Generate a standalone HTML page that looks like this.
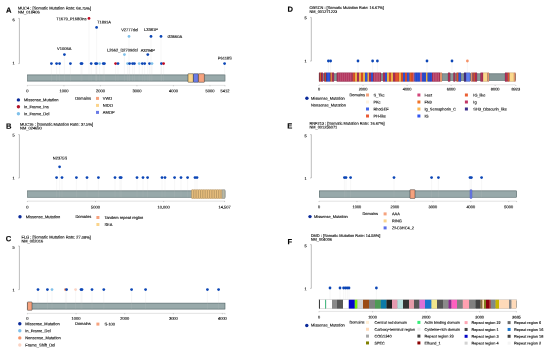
<!DOCTYPE html>
<html lang="en">
<head>
<meta charset="utf-8">
<title>Lollipop plots</title>
<style>
html,body{margin:0;padding:0;background:#fff;}
body{width:550px;height:353px;overflow:hidden;}
svg{display:block;font-family:"Liberation Sans",sans-serif;text-rendering:geometricPrecision;}
text{stroke:#151515;stroke-width:0.13px;}
</style>
</head>
<body>
<svg width="550" height="353" viewBox="0 0 550 353">
<rect x="0" y="0" width="550" height="353" fill="#ffffff"/>
<text x="6" y="12.75" font-size="7.6" font-weight="bold" fill="#000" transform="rotate(0.03 6 12.75)">A</text>
<text x="17.9" y="9.6" font-size="4" fill="#151515" transform="rotate(0.03 17.9 9.6)">MUC4 : [Somatic Mutation Rate: 68.75%]</text>
<text x="17.9" y="13.5" font-size="4" fill="#151515" transform="rotate(0.03 17.9 13.5)">NM_018406</text>
<line x1="19.4" y1="18.4" x2="19.4" y2="63.6" stroke="#7a7a7a" stroke-width="0.5"/>
<line x1="18.2" y1="18.4" x2="19.4" y2="18.4" stroke="#7a7a7a" stroke-width="0.4"/>
<line x1="18.2" y1="63.6" x2="19.4" y2="63.6" stroke="#7a7a7a" stroke-width="0.4"/>
<text x="14.8" y="21.15" font-size="4" text-anchor="end" fill="#151515" transform="rotate(0.03 14.8 21.15)">6</text>
<text x="14.8" y="64.5" font-size="4" text-anchor="end" fill="#151515" transform="rotate(0.03 14.8 64.5)">1</text>
<rect x="27.7" y="74.9" width="197.3" height="6.2" fill="#98a9aa" stroke="#44585a" stroke-width="0.55"/>
<line x1="51.4" y1="63.6" x2="51.4" y2="81.2" stroke="#c4c4c4" stroke-opacity="0.5" stroke-width="0.28"/>
<line x1="56.6" y1="63.6" x2="56.6" y2="81.2" stroke="#c4c4c4" stroke-opacity="0.5" stroke-width="0.28"/>
<line x1="59.6" y1="63.6" x2="59.6" y2="81.2" stroke="#c4c4c4" stroke-opacity="0.5" stroke-width="0.28"/>
<line x1="70.4" y1="63.6" x2="70.4" y2="81.2" stroke="#c4c4c4" stroke-opacity="0.5" stroke-width="0.28"/>
<line x1="81" y1="63.6" x2="81" y2="81.2" stroke="#c4c4c4" stroke-opacity="0.5" stroke-width="0.28"/>
<line x1="82" y1="63.6" x2="82" y2="81.2" stroke="#c4c4c4" stroke-opacity="0.5" stroke-width="0.28"/>
<line x1="91.2" y1="63.6" x2="91.2" y2="81.2" stroke="#c4c4c4" stroke-opacity="0.5" stroke-width="0.28"/>
<line x1="95.6" y1="63.6" x2="95.6" y2="81.2" stroke="#c4c4c4" stroke-opacity="0.5" stroke-width="0.28"/>
<line x1="96.8" y1="63.6" x2="96.8" y2="81.2" stroke="#c4c4c4" stroke-opacity="0.5" stroke-width="0.28"/>
<line x1="99.6" y1="63.6" x2="99.6" y2="81.2" stroke="#c4c4c4" stroke-opacity="0.5" stroke-width="0.28"/>
<line x1="103.2" y1="63.6" x2="103.2" y2="81.2" stroke="#c4c4c4" stroke-opacity="0.5" stroke-width="0.28"/>
<line x1="104.4" y1="63.6" x2="104.4" y2="81.2" stroke="#c4c4c4" stroke-opacity="0.5" stroke-width="0.28"/>
<line x1="115.6" y1="63.6" x2="115.6" y2="81.2" stroke="#c4c4c4" stroke-opacity="0.5" stroke-width="0.28"/>
<line x1="118" y1="63.6" x2="118" y2="81.2" stroke="#c4c4c4" stroke-opacity="0.5" stroke-width="0.28"/>
<line x1="127.5" y1="63.6" x2="127.5" y2="81.2" stroke="#c4c4c4" stroke-opacity="0.5" stroke-width="0.28"/>
<line x1="129.6" y1="63.6" x2="129.6" y2="81.2" stroke="#c4c4c4" stroke-opacity="0.5" stroke-width="0.28"/>
<line x1="132.6" y1="63.6" x2="132.6" y2="81.2" stroke="#c4c4c4" stroke-opacity="0.5" stroke-width="0.28"/>
<line x1="134.4" y1="63.6" x2="134.4" y2="81.2" stroke="#c4c4c4" stroke-opacity="0.5" stroke-width="0.28"/>
<line x1="139.2" y1="63.6" x2="139.2" y2="81.2" stroke="#c4c4c4" stroke-opacity="0.5" stroke-width="0.28"/>
<line x1="142.3" y1="63.6" x2="142.3" y2="81.2" stroke="#c4c4c4" stroke-opacity="0.5" stroke-width="0.28"/>
<line x1="144.7" y1="63.6" x2="144.7" y2="81.2" stroke="#c4c4c4" stroke-opacity="0.5" stroke-width="0.28"/>
<line x1="149.5" y1="63.6" x2="149.5" y2="81.2" stroke="#c4c4c4" stroke-opacity="0.5" stroke-width="0.28"/>
<line x1="152" y1="63.6" x2="152" y2="81.2" stroke="#c4c4c4" stroke-opacity="0.5" stroke-width="0.28"/>
<line x1="161.4" y1="63.6" x2="161.4" y2="81.2" stroke="#c4c4c4" stroke-opacity="0.5" stroke-width="0.28"/>
<line x1="163.6" y1="63.6" x2="163.6" y2="81.2" stroke="#c4c4c4" stroke-opacity="0.5" stroke-width="0.28"/>
<line x1="224.6" y1="63.6" x2="224.6" y2="81.2" stroke="#c4c4c4" stroke-opacity="0.5" stroke-width="0.28"/>
<line x1="89" y1="18.4" x2="89" y2="81.2" stroke="#c4c4c4" stroke-opacity="0.5" stroke-width="0.28"/>
<line x1="96.6" y1="27.44" x2="96.6" y2="81.2" stroke="#c4c4c4" stroke-opacity="0.5" stroke-width="0.28"/>
<line x1="129" y1="36.48" x2="129" y2="81.2" stroke="#c4c4c4" stroke-opacity="0.5" stroke-width="0.28"/>
<line x1="151" y1="36.48" x2="151" y2="81.2" stroke="#c4c4c4" stroke-opacity="0.5" stroke-width="0.28"/>
<line x1="161" y1="36.48" x2="161" y2="81.2" stroke="#c4c4c4" stroke-opacity="0.5" stroke-width="0.28"/>
<line x1="64.4" y1="54.56" x2="64.4" y2="81.2" stroke="#c4c4c4" stroke-opacity="0.5" stroke-width="0.28"/>
<line x1="124.4" y1="54.56" x2="124.4" y2="81.2" stroke="#c4c4c4" stroke-opacity="0.5" stroke-width="0.28"/>
<line x1="147.8" y1="54.56" x2="147.8" y2="81.2" stroke="#c4c4c4" stroke-opacity="0.5" stroke-width="0.28"/>
<rect x="188" y="73.7" width="5.4" height="8.6" fill="#fbd48b" stroke="#2a2a2a" stroke-width="0.45" rx="0.5"/>
<rect x="193.4" y="73.7" width="5" height="8.6" fill="#6a7be6" stroke="#2a2a2a" stroke-width="0.45" rx="0.5"/>
<rect x="198.4" y="73.7" width="6" height="8.6" fill="#f6a27e" stroke="#2a2a2a" stroke-width="0.45" rx="0.5"/>
<line x1="27.4" y1="85.35" x2="225" y2="85.35" stroke="#b5b5b5" stroke-width="0.4"/>
<line x1="27.4" y1="85.35" x2="27.4" y2="86.25" stroke="#777" stroke-width="0.4"/>
<text x="27.4" y="92.2" font-size="4" text-anchor="middle" fill="#151515" transform="rotate(0.03 27.4 92.2)">0</text>
<line x1="63.91" y1="85.35" x2="63.91" y2="86.25" stroke="#777" stroke-width="0.4"/>
<text x="63.91" y="92.2" font-size="4" text-anchor="middle" fill="#151515" transform="rotate(0.03 63.91 92.2)">1000</text>
<line x1="100.42" y1="85.35" x2="100.42" y2="86.25" stroke="#777" stroke-width="0.4"/>
<text x="100.42" y="92.2" font-size="4" text-anchor="middle" fill="#151515" transform="rotate(0.03 100.42 92.2)">2000</text>
<line x1="136.93" y1="85.35" x2="136.93" y2="86.25" stroke="#777" stroke-width="0.4"/>
<text x="136.93" y="92.2" font-size="4" text-anchor="middle" fill="#151515" transform="rotate(0.03 136.93 92.2)">3000</text>
<line x1="173.45" y1="85.35" x2="173.45" y2="86.25" stroke="#777" stroke-width="0.4"/>
<text x="173.45" y="92.2" font-size="4" text-anchor="middle" fill="#151515" transform="rotate(0.03 173.45 92.2)">4000</text>
<line x1="209.96" y1="85.35" x2="209.96" y2="86.25" stroke="#777" stroke-width="0.4"/>
<text x="209.96" y="92.2" font-size="4" text-anchor="middle" fill="#151515" transform="rotate(0.03 209.96 92.2)">5000</text>
<line x1="225" y1="85.35" x2="225" y2="86.25" stroke="#777" stroke-width="0.4"/>
<text x="225" y="92.2" font-size="4" text-anchor="middle" fill="#151515" transform="rotate(0.03 225 92.2)">5412</text>
<circle cx="51.4" cy="63.6" r="1.38" fill="#0c46b6"/>
<circle cx="56.6" cy="63.6" r="1.38" fill="#0c46b6"/>
<circle cx="59.6" cy="63.6" r="1.38" fill="#0c46b6"/>
<circle cx="70.4" cy="63.6" r="1.38" fill="#0c46b6"/>
<circle cx="81" cy="63.6" r="1.38" fill="#0c46b6"/>
<circle cx="82" cy="63.6" r="1.38" fill="#0c46b6"/>
<circle cx="91.2" cy="63.6" r="1.38" fill="#0c46b6"/>
<circle cx="95.6" cy="63.6" r="1.38" fill="#0c46b6"/>
<circle cx="96.8" cy="63.6" r="1.38" fill="#0c46b6"/>
<circle cx="99.6" cy="63.6" r="1.38" fill="#7fc0ea"/>
<circle cx="103.2" cy="63.6" r="1.38" fill="#0c46b6"/>
<circle cx="104.4" cy="63.6" r="1.38" fill="#0c46b6"/>
<circle cx="115.6" cy="63.6" r="1.38" fill="#c20a22"/>
<circle cx="118" cy="63.6" r="1.38" fill="#0c46b6"/>
<circle cx="127.5" cy="63.6" r="1.38" fill="#7fc0ea"/>
<circle cx="129.6" cy="63.6" r="1.38" fill="#0c46b6"/>
<circle cx="132.6" cy="63.6" r="1.38" fill="#0c46b6"/>
<circle cx="134.4" cy="63.6" r="1.38" fill="#0c46b6"/>
<circle cx="139.2" cy="63.6" r="1.38" fill="#7fc0ea"/>
<circle cx="142.3" cy="63.6" r="1.38" fill="#0c46b6"/>
<circle cx="144.7" cy="63.6" r="1.38" fill="#0c46b6"/>
<circle cx="149.5" cy="63.6" r="1.38" fill="#0c46b6"/>
<circle cx="152" cy="63.6" r="1.38" fill="#7fc0ea"/>
<circle cx="161.4" cy="63.6" r="1.38" fill="#0c46b6"/>
<circle cx="163.6" cy="63.6" r="1.38" fill="#c20a22"/>
<circle cx="224.6" cy="63.6" r="1.38" fill="#0c46b6"/>
<circle cx="89" cy="18.4" r="1.38" fill="#c20a22"/>
<circle cx="96.6" cy="27.44" r="1.38" fill="#0c46b6"/>
<circle cx="129" cy="36.48" r="1.38" fill="#7fc0ea"/>
<circle cx="151" cy="36.48" r="1.38" fill="#0c46b6"/>
<circle cx="161" cy="36.48" r="1.38" fill="#0c46b6"/>
<circle cx="64.4" cy="54.56" r="1.38" fill="#0c46b6"/>
<circle cx="124.4" cy="54.56" r="1.38" fill="#7fc0ea"/>
<circle cx="147.8" cy="54.56" r="1.38" fill="#0c46b6"/>
<text x="86.6" y="20.2" font-size="4" text-anchor="end" fill="#151515" transform="rotate(0.03 86.6 20.2)">T1679_P1680ins</text>
<text x="97" y="23.6" font-size="4" fill="#151515" transform="rotate(0.03 97 23.6)">T1891A</text>
<text x="129.6" y="31.3" font-size="4" text-anchor="middle" fill="#151515" transform="rotate(0.03 129.6 31.3)">V2777del</text>
<text x="151" y="31" font-size="4" text-anchor="middle" fill="#151515" transform="rotate(0.03 151 31)">L3381P</text>
<text x="167.4" y="37.9" font-size="4" fill="#151515" transform="rotate(0.03 167.4 37.9)">G3660A</text>
<text x="64.2" y="50" font-size="4" text-anchor="middle" fill="#151515" transform="rotate(0.03 64.2 50)">V1006A</text>
<text x="122.3" y="51.5" font-size="4" text-anchor="middle" fill="#151515" transform="rotate(0.03 122.3 51.5)">L2662_D2709del</text>
<text x="147.8" y="51.7" font-size="4" text-anchor="middle" fill="#151515" transform="rotate(0.03 147.8 51.7)">A3294P</text>
<text x="224.8" y="59.5" font-size="4" text-anchor="middle" fill="#151515" transform="rotate(0.03 224.8 59.5)">P6118S</text>
<circle cx="18.4" cy="99.9" r="1.7" fill="#0a2a9a"/>
<text x="24" y="101.35" font-size="4" fill="#151515" transform="rotate(0.03 24 101.35)">Missense_Mutation</text>
<circle cx="18.4" cy="106.8" r="1.7" fill="#b2152a"/>
<text x="24" y="108.25" font-size="4" fill="#151515" transform="rotate(0.03 24 108.25)">In_Frame_Ins</text>
<circle cx="18.4" cy="113.7" r="1.7" fill="#7fc0ea"/>
<text x="24" y="115.15" font-size="4" fill="#151515" transform="rotate(0.03 24 115.15)">In_Frame_Del</text>
<text x="75.2" y="99.8" font-size="4" fill="#151515" transform="rotate(0.03 75.2 99.8)">Domains</text>
<rect x="96" y="96.9" width="3" height="3" fill="#f6a27e"/>
<text x="102.8" y="99.85" font-size="4" fill="#151515" transform="rotate(0.03 102.8 99.85)">VWD</text>
<rect x="96" y="103.9" width="3" height="3" fill="#fbd48b"/>
<text x="102.8" y="106.85" font-size="4" fill="#151515" transform="rotate(0.03 102.8 106.85)">NIDO</text>
<rect x="96" y="110.9" width="3" height="3" fill="#6a7be6"/>
<text x="102.8" y="113.85" font-size="4" fill="#151515" transform="rotate(0.03 102.8 113.85)">AMOP</text>
<text x="5.9" y="128.85" font-size="7.6" font-weight="bold" fill="#000" transform="rotate(0.03 5.9 128.85)">B</text>
<text x="20" y="125.7" font-size="4" fill="#151515" transform="rotate(0.03 20 125.7)">MUC16 : [Somatic Mutation Rate: 37.5%]</text>
<text x="20" y="129.6" font-size="4" fill="#151515" transform="rotate(0.03 20 129.6)">NM_024690</text>
<line x1="19.4" y1="134.6" x2="19.4" y2="178" stroke="#7a7a7a" stroke-width="0.5"/>
<line x1="18.2" y1="134.6" x2="19.4" y2="134.6" stroke="#7a7a7a" stroke-width="0.4"/>
<line x1="18.2" y1="178" x2="19.4" y2="178" stroke="#7a7a7a" stroke-width="0.4"/>
<text x="14.8" y="136.5" font-size="4" text-anchor="end" fill="#151515" transform="rotate(0.03 14.8 136.5)">5</text>
<text x="14.8" y="179.5" font-size="4" text-anchor="end" fill="#151515" transform="rotate(0.03 14.8 179.5)">1</text>
<rect x="27.7" y="190.85" width="197.3" height="6.4" fill="#98a9aa" stroke="#44585a" stroke-width="0.55"/>
<line x1="56.6" y1="177.6" x2="56.6" y2="197.35" stroke="#c4c4c4" stroke-opacity="0.5" stroke-width="0.28"/>
<line x1="62" y1="177.6" x2="62" y2="197.35" stroke="#c4c4c4" stroke-opacity="0.5" stroke-width="0.28"/>
<line x1="76.4" y1="177.6" x2="76.4" y2="197.35" stroke="#c4c4c4" stroke-opacity="0.5" stroke-width="0.28"/>
<line x1="87" y1="177.6" x2="87" y2="197.35" stroke="#c4c4c4" stroke-opacity="0.5" stroke-width="0.28"/>
<line x1="98.4" y1="177.6" x2="98.4" y2="197.35" stroke="#c4c4c4" stroke-opacity="0.5" stroke-width="0.28"/>
<line x1="115" y1="177.6" x2="115" y2="197.35" stroke="#c4c4c4" stroke-opacity="0.5" stroke-width="0.28"/>
<line x1="120" y1="177.6" x2="120" y2="197.35" stroke="#c4c4c4" stroke-opacity="0.5" stroke-width="0.28"/>
<line x1="121.2" y1="177.6" x2="121.2" y2="197.35" stroke="#c4c4c4" stroke-opacity="0.5" stroke-width="0.28"/>
<line x1="137" y1="177.6" x2="137" y2="197.35" stroke="#c4c4c4" stroke-opacity="0.5" stroke-width="0.28"/>
<line x1="143" y1="177.6" x2="143" y2="197.35" stroke="#c4c4c4" stroke-opacity="0.5" stroke-width="0.28"/>
<line x1="147.6" y1="177.6" x2="147.6" y2="197.35" stroke="#c4c4c4" stroke-opacity="0.5" stroke-width="0.28"/>
<line x1="162" y1="177.6" x2="162" y2="197.35" stroke="#c4c4c4" stroke-opacity="0.5" stroke-width="0.28"/>
<line x1="165" y1="177.6" x2="165" y2="197.35" stroke="#c4c4c4" stroke-opacity="0.5" stroke-width="0.28"/>
<line x1="174.6" y1="177.6" x2="174.6" y2="197.35" stroke="#c4c4c4" stroke-opacity="0.5" stroke-width="0.28"/>
<line x1="181" y1="177.6" x2="181" y2="197.35" stroke="#c4c4c4" stroke-opacity="0.5" stroke-width="0.28"/>
<line x1="187.6" y1="177.6" x2="187.6" y2="197.35" stroke="#c4c4c4" stroke-opacity="0.5" stroke-width="0.28"/>
<line x1="195" y1="177.6" x2="195" y2="197.35" stroke="#c4c4c4" stroke-opacity="0.5" stroke-width="0.28"/>
<line x1="197" y1="177.6" x2="197" y2="197.35" stroke="#c4c4c4" stroke-opacity="0.5" stroke-width="0.28"/>
<line x1="59.6" y1="166.85" x2="59.6" y2="197.35" stroke="#c4c4c4" stroke-opacity="0.5" stroke-width="0.28"/>
<rect x="191.6" y="189.65" width="1.79" height="8.8" fill="#f3c987" stroke="#a4804a" stroke-width="0.45" rx="0.5"/>
<rect x="193.39" y="189.65" width="1.79" height="8.8" fill="#f3c987" stroke="#a4804a" stroke-width="0.45" rx="0.5"/>
<rect x="195.18" y="189.65" width="1.79" height="8.8" fill="#f3c987" stroke="#a4804a" stroke-width="0.45" rx="0.5"/>
<rect x="196.96" y="189.65" width="1.79" height="8.8" fill="#f3c987" stroke="#a4804a" stroke-width="0.45" rx="0.5"/>
<rect x="198.75" y="189.65" width="1.79" height="8.8" fill="#f3c987" stroke="#a4804a" stroke-width="0.45" rx="0.5"/>
<rect x="200.54" y="189.65" width="1.79" height="8.8" fill="#f3c987" stroke="#a4804a" stroke-width="0.45" rx="0.5"/>
<rect x="202.33" y="189.65" width="1.79" height="8.8" fill="#f3c987" stroke="#a4804a" stroke-width="0.45" rx="0.5"/>
<rect x="204.12" y="189.65" width="1.79" height="8.8" fill="#f3c987" stroke="#a4804a" stroke-width="0.45" rx="0.5"/>
<rect x="205.91" y="189.65" width="1.79" height="8.8" fill="#f3c987" stroke="#a4804a" stroke-width="0.45" rx="0.5"/>
<rect x="207.69" y="189.65" width="1.79" height="8.8" fill="#f3c987" stroke="#a4804a" stroke-width="0.45" rx="0.5"/>
<rect x="209.48" y="189.65" width="1.79" height="8.8" fill="#f3c987" stroke="#a4804a" stroke-width="0.45" rx="0.5"/>
<rect x="211.27" y="189.65" width="1.79" height="8.8" fill="#f3c987" stroke="#a4804a" stroke-width="0.45" rx="0.5"/>
<rect x="213.06" y="189.65" width="1.79" height="8.8" fill="#f3c987" stroke="#a4804a" stroke-width="0.45" rx="0.5"/>
<rect x="214.85" y="189.65" width="1.79" height="8.8" fill="#f3c987" stroke="#a4804a" stroke-width="0.45" rx="0.5"/>
<rect x="216.64" y="189.65" width="1.79" height="8.8" fill="#f3c987" stroke="#a4804a" stroke-width="0.45" rx="0.5"/>
<rect x="218.42" y="189.65" width="1.79" height="8.8" fill="#f3c987" stroke="#a4804a" stroke-width="0.45" rx="0.5"/>
<rect x="220.21" y="189.65" width="1.79" height="8.8" fill="#f3c987" stroke="#a4804a" stroke-width="0.45" rx="0.5"/>
<rect x="222" y="189.65" width="3" height="8.8" fill="#b9b9a4" stroke="#777" stroke-width="0.45" rx="0.5"/>
<line x1="27.4" y1="201.15" x2="225" y2="201.15" stroke="#b5b5b5" stroke-width="0.4"/>
<line x1="27.4" y1="201.15" x2="27.4" y2="202.05" stroke="#777" stroke-width="0.4"/>
<text x="27.4" y="208.55" font-size="4" text-anchor="middle" fill="#151515" transform="rotate(0.03 27.4 208.55)">0</text>
<line x1="95.51" y1="201.15" x2="95.51" y2="202.05" stroke="#777" stroke-width="0.4"/>
<text x="95.51" y="208.55" font-size="4" text-anchor="middle" fill="#151515" transform="rotate(0.03 95.51 208.55)">5000</text>
<line x1="163.61" y1="201.15" x2="163.61" y2="202.05" stroke="#777" stroke-width="0.4"/>
<text x="163.61" y="208.55" font-size="4" text-anchor="middle" fill="#151515" transform="rotate(0.03 163.61 208.55)">10,000</text>
<line x1="224.6" y1="201.15" x2="224.6" y2="202.05" stroke="#777" stroke-width="0.4"/>
<text x="224.6" y="208.55" font-size="4" text-anchor="middle" fill="#151515" transform="rotate(0.03 224.6 208.55)">14,507</text>
<circle cx="56.6" cy="177.6" r="1.38" fill="#0c46b6"/>
<circle cx="62" cy="177.6" r="1.38" fill="#0c46b6"/>
<circle cx="76.4" cy="177.6" r="1.38" fill="#0c46b6"/>
<circle cx="87" cy="177.6" r="1.38" fill="#0c46b6"/>
<circle cx="98.4" cy="177.6" r="1.38" fill="#0c46b6"/>
<circle cx="115" cy="177.6" r="1.38" fill="#0c46b6"/>
<circle cx="120" cy="177.6" r="1.38" fill="#0c46b6"/>
<circle cx="121.2" cy="177.6" r="1.38" fill="#0c46b6"/>
<circle cx="137" cy="177.6" r="1.38" fill="#0c46b6"/>
<circle cx="143" cy="177.6" r="1.38" fill="#0c46b6"/>
<circle cx="147.6" cy="177.6" r="1.38" fill="#0c46b6"/>
<circle cx="162" cy="177.6" r="1.38" fill="#0c46b6"/>
<circle cx="165" cy="177.6" r="1.38" fill="#0c46b6"/>
<circle cx="174.6" cy="177.6" r="1.38" fill="#0c46b6"/>
<circle cx="181" cy="177.6" r="1.38" fill="#0c46b6"/>
<circle cx="187.6" cy="177.6" r="1.38" fill="#0c46b6"/>
<circle cx="195" cy="177.6" r="1.38" fill="#0c46b6"/>
<circle cx="197" cy="177.6" r="1.38" fill="#0c46b6"/>
<circle cx="59.6" cy="166.85" r="1.38" fill="#0c46b6"/>
<text x="60" y="159.6" font-size="4" text-anchor="middle" fill="#151515" transform="rotate(0.03 60 159.6)">N2375S</text>
<circle cx="20" cy="216.7" r="1.7" fill="#0a2a9a"/>
<text x="25.8" y="218.15" font-size="4" fill="#151515" transform="rotate(0.03 25.8 218.15)">Missense_Mutation</text>
<text x="75.4" y="217.9" font-size="4" fill="#151515" transform="rotate(0.03 75.4 217.9)">Domains</text>
<rect x="96.4" y="216" width="3" height="3" fill="#f6a27e"/>
<text x="104.4" y="218.95" font-size="4" fill="#151515" transform="rotate(0.03 104.4 218.95)">Tandem repeat region</text>
<rect x="96.4" y="223" width="3" height="3" fill="#fbd48b"/>
<text x="104.4" y="225.95" font-size="4" fill="#151515" transform="rotate(0.03 104.4 225.95)">SEA</text>
<text x="5.7" y="241.2" font-size="7.6" font-weight="bold" fill="#000" transform="rotate(0.03 5.7 241.2)">C</text>
<text x="21.4" y="238.6" font-size="4" fill="#151515" transform="rotate(0.03 21.4 238.6)">FLG : [Somatic Mutation Rate: 27.08%]</text>
<text x="21.4" y="242.5" font-size="4" fill="#151515" transform="rotate(0.03 21.4 242.5)">NM_002016</text>
<line x1="19.4" y1="246" x2="19.4" y2="289.6" stroke="#7a7a7a" stroke-width="0.5"/>
<line x1="18.2" y1="246" x2="19.4" y2="246" stroke="#7a7a7a" stroke-width="0.4"/>
<line x1="18.2" y1="289.6" x2="19.4" y2="289.6" stroke="#7a7a7a" stroke-width="0.4"/>
<text x="14.8" y="248.75" font-size="4" text-anchor="end" fill="#151515" transform="rotate(0.03 14.8 248.75)">5</text>
<text x="14.8" y="291.5" font-size="4" text-anchor="end" fill="#151515" transform="rotate(0.03 14.8 291.5)">1</text>
<rect x="27.7" y="303.1" width="197.3" height="6" fill="#98a9aa" stroke="#44585a" stroke-width="0.55"/>
<line x1="38" y1="289.6" x2="38" y2="309.2" stroke="#c4c4c4" stroke-opacity="0.5" stroke-width="0.28"/>
<line x1="47.4" y1="289.6" x2="47.4" y2="309.2" stroke="#c4c4c4" stroke-opacity="0.5" stroke-width="0.28"/>
<line x1="52" y1="289.6" x2="52" y2="309.2" stroke="#c4c4c4" stroke-opacity="0.5" stroke-width="0.28"/>
<line x1="65.4" y1="289.6" x2="65.4" y2="309.2" stroke="#c4c4c4" stroke-opacity="0.5" stroke-width="0.28"/>
<line x1="66.6" y1="289.6" x2="66.6" y2="309.2" stroke="#c4c4c4" stroke-opacity="0.5" stroke-width="0.28"/>
<line x1="75.6" y1="289.6" x2="75.6" y2="309.2" stroke="#c4c4c4" stroke-opacity="0.5" stroke-width="0.28"/>
<line x1="81" y1="289.6" x2="81" y2="309.2" stroke="#c4c4c4" stroke-opacity="0.5" stroke-width="0.28"/>
<line x1="82" y1="289.6" x2="82" y2="309.2" stroke="#c4c4c4" stroke-opacity="0.5" stroke-width="0.28"/>
<line x1="92" y1="289.6" x2="92" y2="309.2" stroke="#c4c4c4" stroke-opacity="0.5" stroke-width="0.28"/>
<line x1="103.8" y1="289.6" x2="103.8" y2="309.2" stroke="#c4c4c4" stroke-opacity="0.5" stroke-width="0.28"/>
<line x1="131.6" y1="289.6" x2="131.6" y2="309.2" stroke="#c4c4c4" stroke-opacity="0.5" stroke-width="0.28"/>
<line x1="145.6" y1="289.6" x2="145.6" y2="309.2" stroke="#c4c4c4" stroke-opacity="0.5" stroke-width="0.28"/>
<line x1="207.4" y1="289.6" x2="207.4" y2="309.2" stroke="#c4c4c4" stroke-opacity="0.5" stroke-width="0.28"/>
<line x1="218.6" y1="289.6" x2="218.6" y2="309.2" stroke="#c4c4c4" stroke-opacity="0.5" stroke-width="0.28"/>
<rect x="27.4" y="301.9" width="4.6" height="8.4" fill="#f6a27e" stroke="#2a2a2a" stroke-width="0.45" rx="0.5"/>
<line x1="27.4" y1="313.35" x2="225" y2="313.35" stroke="#b5b5b5" stroke-width="0.4"/>
<line x1="27.4" y1="313.35" x2="27.4" y2="314.25" stroke="#777" stroke-width="0.4"/>
<text x="27.4" y="319.75" font-size="4" text-anchor="middle" fill="#151515" transform="rotate(0.03 27.4 319.75)">0</text>
<line x1="76.06" y1="313.35" x2="76.06" y2="314.25" stroke="#777" stroke-width="0.4"/>
<text x="76.06" y="319.75" font-size="4" text-anchor="middle" fill="#151515" transform="rotate(0.03 76.06 319.75)">1000</text>
<line x1="124.72" y1="313.35" x2="124.72" y2="314.25" stroke="#777" stroke-width="0.4"/>
<text x="124.72" y="319.75" font-size="4" text-anchor="middle" fill="#151515" transform="rotate(0.03 124.72 319.75)">2000</text>
<line x1="173.37" y1="313.35" x2="173.37" y2="314.25" stroke="#777" stroke-width="0.4"/>
<text x="173.37" y="319.75" font-size="4" text-anchor="middle" fill="#151515" transform="rotate(0.03 173.37 319.75)">3000</text>
<line x1="222.4" y1="313.35" x2="222.4" y2="314.25" stroke="#777" stroke-width="0.4"/>
<text x="222.4" y="319.75" font-size="4" text-anchor="middle" fill="#151515" transform="rotate(0.03 222.4 319.75)">4000</text>
<line x1="225" y1="313.35" x2="225" y2="314.25" stroke="#777" stroke-width="0.4"/>
<circle cx="38" cy="289.6" r="1.38" fill="#0c46b6"/>
<circle cx="47.4" cy="289.6" r="1.38" fill="#0c46b6"/>
<circle cx="52" cy="289.6" r="1.38" fill="#7fc0ea"/>
<circle cx="65.4" cy="289.6" r="1.38" fill="#f59268"/>
<circle cx="66.6" cy="289.6" r="1.38" fill="#0c46b6"/>
<circle cx="75.6" cy="289.6" r="1.38" fill="#fbd3c3"/>
<circle cx="81" cy="289.6" r="1.38" fill="#0c46b6"/>
<circle cx="82" cy="289.6" r="1.38" fill="#0c46b6"/>
<circle cx="92" cy="289.6" r="1.38" fill="#0c46b6"/>
<circle cx="103.8" cy="289.6" r="1.38" fill="#0c46b6"/>
<circle cx="131.6" cy="289.6" r="1.38" fill="#0c46b6"/>
<circle cx="145.6" cy="289.6" r="1.38" fill="#0c46b6"/>
<circle cx="207.4" cy="289.6" r="1.38" fill="#0c46b6"/>
<circle cx="218.6" cy="289.6" r="1.38" fill="#0c46b6"/>
<circle cx="19.8" cy="323.7" r="1.7" fill="#0a2a9a"/>
<text x="25.2" y="325.15" font-size="4" fill="#151515" transform="rotate(0.03 25.2 325.15)">Missense_Mutation</text>
<circle cx="19.8" cy="330.8" r="1.7" fill="#7fc0ea"/>
<text x="25.2" y="332.25" font-size="4" fill="#151515" transform="rotate(0.03 25.2 332.25)">In_Frame_Del</text>
<circle cx="19.8" cy="337.9" r="1.7" fill="#f59268"/>
<text x="25.2" y="339.35" font-size="4" fill="#151515" transform="rotate(0.03 25.2 339.35)">Nonsense_Mutation</text>
<circle cx="19.8" cy="345" r="1.7" fill="#fbd3c3"/>
<text x="25.2" y="346.45" font-size="4" fill="#151515" transform="rotate(0.03 25.2 346.45)">Frame_Shift_Del</text>
<text x="75" y="325" font-size="4" fill="#151515" transform="rotate(0.03 75 325)">Domains</text>
<rect x="96.4" y="322.6" width="3" height="3" fill="#f6a27e"/>
<text x="104.4" y="325.55" font-size="4" fill="#151515" transform="rotate(0.03 104.4 325.55)">S-100</text>
<text x="287.6" y="11.8" font-size="7.6" font-weight="bold" fill="#000" transform="rotate(0.03 287.6 11.8)">D</text>
<text x="309.4" y="9" font-size="3.93" fill="#151515" transform="rotate(0.03 309.4 9)">OBSCN : [Somatic Mutation Rate: 16.67%]</text>
<text x="309.4" y="12.9" font-size="3.93" fill="#151515" transform="rotate(0.03 309.4 12.9)">NM_001271223</text>
<line x1="311.3" y1="17.4" x2="311.3" y2="61.1" stroke="#7a7a7a" stroke-width="0.5"/>
<line x1="310.1" y1="17.4" x2="311.3" y2="17.4" stroke="#7a7a7a" stroke-width="0.4"/>
<line x1="310.1" y1="61.1" x2="311.3" y2="61.1" stroke="#7a7a7a" stroke-width="0.4"/>
<text x="306.7" y="19.3" font-size="3.93" text-anchor="end" fill="#151515" transform="rotate(0.03 306.7 19.3)">5</text>
<text x="306.7" y="62.6" font-size="3.93" text-anchor="end" fill="#151515" transform="rotate(0.03 306.7 62.6)">1</text>
<rect x="319.3" y="73.8" width="196.2" height="6.6" fill="#869797" stroke="#44585a" stroke-width="0.55"/>
<line x1="328.4" y1="61" x2="328.4" y2="80.5" stroke="#c4c4c4" stroke-opacity="0.5" stroke-width="0.28"/>
<line x1="330.6" y1="61" x2="330.6" y2="80.5" stroke="#c4c4c4" stroke-opacity="0.5" stroke-width="0.28"/>
<line x1="358" y1="61" x2="358" y2="80.5" stroke="#c4c4c4" stroke-opacity="0.5" stroke-width="0.28"/>
<line x1="372.6" y1="61" x2="372.6" y2="80.5" stroke="#c4c4c4" stroke-opacity="0.5" stroke-width="0.28"/>
<line x1="377.4" y1="61" x2="377.4" y2="80.5" stroke="#c4c4c4" stroke-opacity="0.5" stroke-width="0.28"/>
<line x1="427" y1="61" x2="427" y2="80.5" stroke="#c4c4c4" stroke-opacity="0.5" stroke-width="0.28"/>
<line x1="452" y1="61" x2="452" y2="80.5" stroke="#c4c4c4" stroke-opacity="0.5" stroke-width="0.28"/>
<line x1="467.4" y1="61" x2="467.4" y2="80.5" stroke="#c4c4c4" stroke-opacity="0.5" stroke-width="0.28"/>
<rect x="319" y="72.6" width="0.8" height="9" fill="#8e2048"/>
<rect x="319.8" y="72.6" width="1.2" height="9" fill="#f06a25"/>
<rect x="321" y="72.6" width="0.8" height="9" fill="#8e2048"/>
<rect x="321.8" y="72.6" width="1.2" height="9" fill="#cc3060"/>
<rect x="324.3" y="72.6" width="0.7" height="9" fill="#b03059"/>
<rect x="325" y="72.6" width="1" height="9" fill="#e2502e"/>
<rect x="326" y="72.6" width="0.8" height="9" fill="#1d3fc0"/>
<rect x="326.8" y="72.6" width="3.2" height="9" fill="#2f55e0"/>
<rect x="330" y="72.6" width="0.6" height="9" fill="#b03059"/>
<rect x="330.6" y="72.6" width="1.4" height="9" fill="#f59040"/>
<rect x="332" y="72.6" width="2" height="9" fill="#b03059"/>
<rect x="336.8" y="72.6" width="15.9" height="9" fill="#b03059"/>
<rect x="352.7" y="72.6" width="2.3" height="9" fill="#e2502e"/>
<rect x="355" y="72.6" width="2" height="9" fill="#fbc24a"/>
<rect x="357" y="72.6" width="2" height="9" fill="#b03059"/>
<rect x="359" y="72.6" width="2" height="9" fill="#fbc24a"/>
<rect x="361" y="72.6" width="2" height="9" fill="#e2502e"/>
<rect x="363" y="72.6" width="2" height="9" fill="#fbc24a"/>
<rect x="365" y="72.6" width="2.5" height="9" fill="#2f55e0"/>
<rect x="367.5" y="72.6" width="1.5" height="9" fill="#fbc24a"/>
<rect x="369" y="72.6" width="2" height="9" fill="#b03059"/>
<rect x="371" y="72.6" width="2" height="9" fill="#2f55e0"/>
<rect x="373" y="72.6" width="8" height="9" fill="#b03059"/>
<rect x="383" y="72.6" width="2" height="9" fill="#b03059"/>
<rect x="385" y="72.6" width="2" height="9" fill="#2f55e0"/>
<rect x="387" y="72.6" width="2" height="9" fill="#fbc24a"/>
<rect x="389" y="72.6" width="2" height="9" fill="#e2502e"/>
<rect x="391" y="72.6" width="2" height="9" fill="#fbc24a"/>
<rect x="393" y="72.6" width="2" height="9" fill="#b03059"/>
<rect x="395" y="72.6" width="4" height="9" fill="#e2502e"/>
<rect x="399" y="72.6" width="2" height="9" fill="#fbc24a"/>
<rect x="401" y="72.6" width="2" height="9" fill="#e2502e"/>
<rect x="403" y="72.6" width="2" height="9" fill="#2f55e0"/>
<rect x="405" y="72.6" width="2" height="9" fill="#e2502e"/>
<rect x="407" y="72.6" width="2.5" height="9" fill="#2f55e0"/>
<rect x="409.5" y="72.6" width="1.5" height="9" fill="#f06a25"/>
<rect x="411" y="72.6" width="2" height="9" fill="#e2502e"/>
<rect x="413" y="72.6" width="1.5" height="9" fill="#d8638a"/>
<rect x="414.5" y="72.6" width="5.5" height="9" fill="#2f55e0"/>
<rect x="420" y="72.6" width="2" height="9" fill="#d8638a"/>
<rect x="422" y="72.6" width="4" height="9" fill="#2f55e0"/>
<rect x="426" y="72.6" width="1.6" height="9" fill="#fbc24a"/>
<rect x="427.6" y="72.6" width="4.4" height="9" fill="#2f55e0"/>
<rect x="432" y="72.6" width="8" height="9" fill="#b03059"/>
<rect x="440" y="72.6" width="2" height="9" fill="#f4a070"/>
<rect x="448" y="72.6" width="2.2" height="9" fill="#b03059"/>
<rect x="453.5" y="72.6" width="1.7" height="9" fill="#b03059"/>
<rect x="456.5" y="72.6" width="2" height="9" fill="#e2502e"/>
<rect x="458.5" y="72.6" width="2.5" height="9" fill="#2f55e0"/>
<rect x="464" y="72.6" width="2" height="9" fill="#3a2f8a"/>
<rect x="466" y="72.6" width="4.2" height="9" fill="#5b7df0"/>
<rect x="471" y="72.6" width="1.5" height="9" fill="#f4a070"/>
<rect x="472.5" y="72.6" width="1" height="9" fill="#b03059"/>
<rect x="473.5" y="72.6" width="1.5" height="9" fill="#e2502e"/>
<rect x="475" y="72.6" width="2" height="9" fill="#b03059"/>
<rect x="480.5" y="72.6" width="2.5" height="9" fill="#b03059"/>
<rect x="483" y="72.6" width="4.5" height="9" fill="#fbd88c"/>
<rect x="487.5" y="72.6" width="1.5" height="9" fill="#f4a070"/>
<rect x="505" y="72.6" width="2.5" height="9" fill="#b03059"/>
<rect x="507.5" y="72.6" width="2" height="9" fill="#e2502e"/>
<rect x="509.5" y="72.6" width="4.5" height="9" fill="#fbd88c"/>
<rect x="514" y="72.6" width="1.5" height="9" fill="#f4a070"/>
<line x1="319" y1="84.75" x2="515.5" y2="84.75" stroke="#b5b5b5" stroke-width="0.4"/>
<circle cx="328.4" cy="61" r="1.38" fill="#0c46b6"/>
<circle cx="330.6" cy="61" r="1.38" fill="#0c46b6"/>
<circle cx="358" cy="61" r="1.38" fill="#0c46b6"/>
<circle cx="372.6" cy="61" r="1.38" fill="#0c46b6"/>
<circle cx="377.4" cy="61" r="1.38" fill="#0c46b6"/>
<circle cx="427" cy="61" r="1.38" fill="#0c46b6"/>
<circle cx="452" cy="61" r="1.38" fill="#0c46b6"/>
<circle cx="467.4" cy="61" r="1.38" fill="#f59268"/>
<line x1="338.79" y1="72.8" x2="338.79" y2="81.4" stroke="#dba3b6" stroke-width="0.35"/>
<line x1="340.77" y1="72.8" x2="340.77" y2="81.4" stroke="#dba3b6" stroke-width="0.35"/>
<line x1="342.76" y1="72.8" x2="342.76" y2="81.4" stroke="#dba3b6" stroke-width="0.35"/>
<line x1="344.75" y1="72.8" x2="344.75" y2="81.4" stroke="#dba3b6" stroke-width="0.35"/>
<line x1="346.74" y1="72.8" x2="346.74" y2="81.4" stroke="#dba3b6" stroke-width="0.35"/>
<line x1="348.73" y1="72.8" x2="348.73" y2="81.4" stroke="#dba3b6" stroke-width="0.35"/>
<line x1="350.71" y1="72.8" x2="350.71" y2="81.4" stroke="#dba3b6" stroke-width="0.35"/>
<line x1="374.6" y1="72.8" x2="374.6" y2="81.4" stroke="#dba3b6" stroke-width="0.35"/>
<line x1="376.2" y1="72.8" x2="376.2" y2="81.4" stroke="#dba3b6" stroke-width="0.35"/>
<line x1="377.8" y1="72.8" x2="377.8" y2="81.4" stroke="#dba3b6" stroke-width="0.35"/>
<line x1="379.4" y1="72.8" x2="379.4" y2="81.4" stroke="#dba3b6" stroke-width="0.35"/>
<line x1="416.33" y1="72.8" x2="416.33" y2="81.4" stroke="#1a2f8f" stroke-width="0.35"/>
<line x1="418.17" y1="72.8" x2="418.17" y2="81.4" stroke="#1a2f8f" stroke-width="0.35"/>
<line x1="423.33" y1="72.8" x2="423.33" y2="81.4" stroke="#1a2f8f" stroke-width="0.35"/>
<line x1="424.67" y1="72.8" x2="424.67" y2="81.4" stroke="#1a2f8f" stroke-width="0.35"/>
<line x1="429.07" y1="72.8" x2="429.07" y2="81.4" stroke="#1a2f8f" stroke-width="0.35"/>
<line x1="430.53" y1="72.8" x2="430.53" y2="81.4" stroke="#1a2f8f" stroke-width="0.35"/>
<line x1="433.6" y1="72.8" x2="433.6" y2="81.4" stroke="#dba3b6" stroke-width="0.35"/>
<line x1="435.2" y1="72.8" x2="435.2" y2="81.4" stroke="#dba3b6" stroke-width="0.35"/>
<line x1="436.8" y1="72.8" x2="436.8" y2="81.4" stroke="#dba3b6" stroke-width="0.35"/>
<line x1="438.4" y1="72.8" x2="438.4" y2="81.4" stroke="#dba3b6" stroke-width="0.35"/>
<line x1="319" y1="72.9" x2="319" y2="81.3" stroke="#3a1424" stroke-opacity="0.5" stroke-width="0.4"/>
<line x1="319.8" y1="72.9" x2="319.8" y2="81.3" stroke="#3a1424" stroke-opacity="0.5" stroke-width="0.4"/>
<line x1="321" y1="72.9" x2="321" y2="81.3" stroke="#3a1424" stroke-opacity="0.5" stroke-width="0.4"/>
<line x1="321.8" y1="72.9" x2="321.8" y2="81.3" stroke="#3a1424" stroke-opacity="0.5" stroke-width="0.4"/>
<line x1="323" y1="72.9" x2="323" y2="81.3" stroke="#3a1424" stroke-opacity="0.5" stroke-width="0.4"/>
<line x1="324.3" y1="72.9" x2="324.3" y2="81.3" stroke="#3a1424" stroke-opacity="0.5" stroke-width="0.4"/>
<line x1="325" y1="72.9" x2="325" y2="81.3" stroke="#3a1424" stroke-opacity="0.5" stroke-width="0.4"/>
<line x1="326" y1="72.9" x2="326" y2="81.3" stroke="#3a1424" stroke-opacity="0.5" stroke-width="0.4"/>
<line x1="326.8" y1="72.9" x2="326.8" y2="81.3" stroke="#3a1424" stroke-opacity="0.5" stroke-width="0.4"/>
<line x1="330" y1="72.9" x2="330" y2="81.3" stroke="#3a1424" stroke-opacity="0.5" stroke-width="0.4"/>
<line x1="330.6" y1="72.9" x2="330.6" y2="81.3" stroke="#3a1424" stroke-opacity="0.5" stroke-width="0.4"/>
<line x1="332" y1="72.9" x2="332" y2="81.3" stroke="#3a1424" stroke-opacity="0.5" stroke-width="0.4"/>
<line x1="334" y1="72.9" x2="334" y2="81.3" stroke="#3a1424" stroke-opacity="0.5" stroke-width="0.4"/>
<line x1="336.8" y1="72.9" x2="336.8" y2="81.3" stroke="#3a1424" stroke-opacity="0.5" stroke-width="0.4"/>
<line x1="352.7" y1="72.9" x2="352.7" y2="81.3" stroke="#3a1424" stroke-opacity="0.5" stroke-width="0.4"/>
<line x1="355" y1="72.9" x2="355" y2="81.3" stroke="#3a1424" stroke-opacity="0.5" stroke-width="0.4"/>
<line x1="357" y1="72.9" x2="357" y2="81.3" stroke="#3a1424" stroke-opacity="0.5" stroke-width="0.4"/>
<line x1="359" y1="72.9" x2="359" y2="81.3" stroke="#3a1424" stroke-opacity="0.5" stroke-width="0.4"/>
<line x1="361" y1="72.9" x2="361" y2="81.3" stroke="#3a1424" stroke-opacity="0.5" stroke-width="0.4"/>
<line x1="363" y1="72.9" x2="363" y2="81.3" stroke="#3a1424" stroke-opacity="0.5" stroke-width="0.4"/>
<line x1="365" y1="72.9" x2="365" y2="81.3" stroke="#3a1424" stroke-opacity="0.5" stroke-width="0.4"/>
<line x1="367.5" y1="72.9" x2="367.5" y2="81.3" stroke="#3a1424" stroke-opacity="0.5" stroke-width="0.4"/>
<line x1="369" y1="72.9" x2="369" y2="81.3" stroke="#3a1424" stroke-opacity="0.5" stroke-width="0.4"/>
<line x1="371" y1="72.9" x2="371" y2="81.3" stroke="#3a1424" stroke-opacity="0.5" stroke-width="0.4"/>
<line x1="373" y1="72.9" x2="373" y2="81.3" stroke="#3a1424" stroke-opacity="0.5" stroke-width="0.4"/>
<line x1="381" y1="72.9" x2="381" y2="81.3" stroke="#3a1424" stroke-opacity="0.5" stroke-width="0.4"/>
<line x1="383" y1="72.9" x2="383" y2="81.3" stroke="#3a1424" stroke-opacity="0.5" stroke-width="0.4"/>
<line x1="385" y1="72.9" x2="385" y2="81.3" stroke="#3a1424" stroke-opacity="0.5" stroke-width="0.4"/>
<line x1="387" y1="72.9" x2="387" y2="81.3" stroke="#3a1424" stroke-opacity="0.5" stroke-width="0.4"/>
<line x1="389" y1="72.9" x2="389" y2="81.3" stroke="#3a1424" stroke-opacity="0.5" stroke-width="0.4"/>
<line x1="391" y1="72.9" x2="391" y2="81.3" stroke="#3a1424" stroke-opacity="0.5" stroke-width="0.4"/>
<line x1="393" y1="72.9" x2="393" y2="81.3" stroke="#3a1424" stroke-opacity="0.5" stroke-width="0.4"/>
<line x1="395" y1="72.9" x2="395" y2="81.3" stroke="#3a1424" stroke-opacity="0.5" stroke-width="0.4"/>
<line x1="399" y1="72.9" x2="399" y2="81.3" stroke="#3a1424" stroke-opacity="0.5" stroke-width="0.4"/>
<line x1="401" y1="72.9" x2="401" y2="81.3" stroke="#3a1424" stroke-opacity="0.5" stroke-width="0.4"/>
<line x1="403" y1="72.9" x2="403" y2="81.3" stroke="#3a1424" stroke-opacity="0.5" stroke-width="0.4"/>
<line x1="405" y1="72.9" x2="405" y2="81.3" stroke="#3a1424" stroke-opacity="0.5" stroke-width="0.4"/>
<line x1="407" y1="72.9" x2="407" y2="81.3" stroke="#3a1424" stroke-opacity="0.5" stroke-width="0.4"/>
<line x1="409.5" y1="72.9" x2="409.5" y2="81.3" stroke="#3a1424" stroke-opacity="0.5" stroke-width="0.4"/>
<line x1="411" y1="72.9" x2="411" y2="81.3" stroke="#3a1424" stroke-opacity="0.5" stroke-width="0.4"/>
<line x1="413" y1="72.9" x2="413" y2="81.3" stroke="#3a1424" stroke-opacity="0.5" stroke-width="0.4"/>
<line x1="414.5" y1="72.9" x2="414.5" y2="81.3" stroke="#3a1424" stroke-opacity="0.5" stroke-width="0.4"/>
<line x1="420" y1="72.9" x2="420" y2="81.3" stroke="#3a1424" stroke-opacity="0.5" stroke-width="0.4"/>
<line x1="422" y1="72.9" x2="422" y2="81.3" stroke="#3a1424" stroke-opacity="0.5" stroke-width="0.4"/>
<line x1="426" y1="72.9" x2="426" y2="81.3" stroke="#3a1424" stroke-opacity="0.5" stroke-width="0.4"/>
<line x1="427.6" y1="72.9" x2="427.6" y2="81.3" stroke="#3a1424" stroke-opacity="0.5" stroke-width="0.4"/>
<line x1="432" y1="72.9" x2="432" y2="81.3" stroke="#3a1424" stroke-opacity="0.5" stroke-width="0.4"/>
<line x1="440" y1="72.9" x2="440" y2="81.3" stroke="#3a1424" stroke-opacity="0.5" stroke-width="0.4"/>
<line x1="442" y1="72.9" x2="442" y2="81.3" stroke="#3a1424" stroke-opacity="0.5" stroke-width="0.4"/>
<line x1="448" y1="72.9" x2="448" y2="81.3" stroke="#3a1424" stroke-opacity="0.5" stroke-width="0.4"/>
<line x1="450.2" y1="72.9" x2="450.2" y2="81.3" stroke="#3a1424" stroke-opacity="0.5" stroke-width="0.4"/>
<line x1="453.5" y1="72.9" x2="453.5" y2="81.3" stroke="#3a1424" stroke-opacity="0.5" stroke-width="0.4"/>
<line x1="455.2" y1="72.9" x2="455.2" y2="81.3" stroke="#3a1424" stroke-opacity="0.5" stroke-width="0.4"/>
<line x1="456.5" y1="72.9" x2="456.5" y2="81.3" stroke="#3a1424" stroke-opacity="0.5" stroke-width="0.4"/>
<line x1="458.5" y1="72.9" x2="458.5" y2="81.3" stroke="#3a1424" stroke-opacity="0.5" stroke-width="0.4"/>
<line x1="461" y1="72.9" x2="461" y2="81.3" stroke="#3a1424" stroke-opacity="0.5" stroke-width="0.4"/>
<line x1="464" y1="72.9" x2="464" y2="81.3" stroke="#3a1424" stroke-opacity="0.5" stroke-width="0.4"/>
<line x1="466" y1="72.9" x2="466" y2="81.3" stroke="#3a1424" stroke-opacity="0.5" stroke-width="0.4"/>
<line x1="470.2" y1="72.9" x2="470.2" y2="81.3" stroke="#3a1424" stroke-opacity="0.5" stroke-width="0.4"/>
<line x1="471" y1="72.9" x2="471" y2="81.3" stroke="#3a1424" stroke-opacity="0.5" stroke-width="0.4"/>
<line x1="472.5" y1="72.9" x2="472.5" y2="81.3" stroke="#3a1424" stroke-opacity="0.5" stroke-width="0.4"/>
<line x1="473.5" y1="72.9" x2="473.5" y2="81.3" stroke="#3a1424" stroke-opacity="0.5" stroke-width="0.4"/>
<line x1="475" y1="72.9" x2="475" y2="81.3" stroke="#3a1424" stroke-opacity="0.5" stroke-width="0.4"/>
<line x1="477" y1="72.9" x2="477" y2="81.3" stroke="#3a1424" stroke-opacity="0.5" stroke-width="0.4"/>
<line x1="480.5" y1="72.9" x2="480.5" y2="81.3" stroke="#3a1424" stroke-opacity="0.5" stroke-width="0.4"/>
<line x1="483" y1="72.9" x2="483" y2="81.3" stroke="#3a1424" stroke-opacity="0.5" stroke-width="0.4"/>
<line x1="487.5" y1="72.9" x2="487.5" y2="81.3" stroke="#3a1424" stroke-opacity="0.5" stroke-width="0.4"/>
<line x1="489" y1="72.9" x2="489" y2="81.3" stroke="#3a1424" stroke-opacity="0.5" stroke-width="0.4"/>
<line x1="505" y1="72.9" x2="505" y2="81.3" stroke="#3a1424" stroke-opacity="0.5" stroke-width="0.4"/>
<line x1="507.5" y1="72.9" x2="507.5" y2="81.3" stroke="#3a1424" stroke-opacity="0.5" stroke-width="0.4"/>
<line x1="509.5" y1="72.9" x2="509.5" y2="81.3" stroke="#3a1424" stroke-opacity="0.5" stroke-width="0.4"/>
<line x1="514" y1="72.9" x2="514" y2="81.3" stroke="#3a1424" stroke-opacity="0.5" stroke-width="0.4"/>
<line x1="515.5" y1="72.9" x2="515.5" y2="81.3" stroke="#3a1424" stroke-opacity="0.5" stroke-width="0.4"/>
<line x1="319" y1="72.75" x2="319.8" y2="72.75" stroke="#3a1424" stroke-opacity="0.4" stroke-width="0.35"/>
<line x1="319" y1="81.45" x2="319.8" y2="81.45" stroke="#3a1424" stroke-opacity="0.4" stroke-width="0.35"/>
<line x1="319.8" y1="72.75" x2="321" y2="72.75" stroke="#3a1424" stroke-opacity="0.4" stroke-width="0.35"/>
<line x1="319.8" y1="81.45" x2="321" y2="81.45" stroke="#3a1424" stroke-opacity="0.4" stroke-width="0.35"/>
<line x1="321" y1="72.75" x2="321.8" y2="72.75" stroke="#3a1424" stroke-opacity="0.4" stroke-width="0.35"/>
<line x1="321" y1="81.45" x2="321.8" y2="81.45" stroke="#3a1424" stroke-opacity="0.4" stroke-width="0.35"/>
<line x1="321.8" y1="72.75" x2="323" y2="72.75" stroke="#3a1424" stroke-opacity="0.4" stroke-width="0.35"/>
<line x1="321.8" y1="81.45" x2="323" y2="81.45" stroke="#3a1424" stroke-opacity="0.4" stroke-width="0.35"/>
<line x1="324.3" y1="72.75" x2="325" y2="72.75" stroke="#3a1424" stroke-opacity="0.4" stroke-width="0.35"/>
<line x1="324.3" y1="81.45" x2="325" y2="81.45" stroke="#3a1424" stroke-opacity="0.4" stroke-width="0.35"/>
<line x1="325" y1="72.75" x2="326" y2="72.75" stroke="#3a1424" stroke-opacity="0.4" stroke-width="0.35"/>
<line x1="325" y1="81.45" x2="326" y2="81.45" stroke="#3a1424" stroke-opacity="0.4" stroke-width="0.35"/>
<line x1="326" y1="72.75" x2="326.8" y2="72.75" stroke="#3a1424" stroke-opacity="0.4" stroke-width="0.35"/>
<line x1="326" y1="81.45" x2="326.8" y2="81.45" stroke="#3a1424" stroke-opacity="0.4" stroke-width="0.35"/>
<line x1="326.8" y1="72.75" x2="330" y2="72.75" stroke="#3a1424" stroke-opacity="0.4" stroke-width="0.35"/>
<line x1="326.8" y1="81.45" x2="330" y2="81.45" stroke="#3a1424" stroke-opacity="0.4" stroke-width="0.35"/>
<line x1="330" y1="72.75" x2="330.6" y2="72.75" stroke="#3a1424" stroke-opacity="0.4" stroke-width="0.35"/>
<line x1="330" y1="81.45" x2="330.6" y2="81.45" stroke="#3a1424" stroke-opacity="0.4" stroke-width="0.35"/>
<line x1="330.6" y1="72.75" x2="332" y2="72.75" stroke="#3a1424" stroke-opacity="0.4" stroke-width="0.35"/>
<line x1="330.6" y1="81.45" x2="332" y2="81.45" stroke="#3a1424" stroke-opacity="0.4" stroke-width="0.35"/>
<line x1="332" y1="72.75" x2="334" y2="72.75" stroke="#3a1424" stroke-opacity="0.4" stroke-width="0.35"/>
<line x1="332" y1="81.45" x2="334" y2="81.45" stroke="#3a1424" stroke-opacity="0.4" stroke-width="0.35"/>
<line x1="336.8" y1="72.75" x2="352.7" y2="72.75" stroke="#3a1424" stroke-opacity="0.4" stroke-width="0.35"/>
<line x1="336.8" y1="81.45" x2="352.7" y2="81.45" stroke="#3a1424" stroke-opacity="0.4" stroke-width="0.35"/>
<line x1="352.7" y1="72.75" x2="355" y2="72.75" stroke="#3a1424" stroke-opacity="0.4" stroke-width="0.35"/>
<line x1="352.7" y1="81.45" x2="355" y2="81.45" stroke="#3a1424" stroke-opacity="0.4" stroke-width="0.35"/>
<line x1="355" y1="72.75" x2="357" y2="72.75" stroke="#3a1424" stroke-opacity="0.4" stroke-width="0.35"/>
<line x1="355" y1="81.45" x2="357" y2="81.45" stroke="#3a1424" stroke-opacity="0.4" stroke-width="0.35"/>
<line x1="357" y1="72.75" x2="359" y2="72.75" stroke="#3a1424" stroke-opacity="0.4" stroke-width="0.35"/>
<line x1="357" y1="81.45" x2="359" y2="81.45" stroke="#3a1424" stroke-opacity="0.4" stroke-width="0.35"/>
<line x1="359" y1="72.75" x2="361" y2="72.75" stroke="#3a1424" stroke-opacity="0.4" stroke-width="0.35"/>
<line x1="359" y1="81.45" x2="361" y2="81.45" stroke="#3a1424" stroke-opacity="0.4" stroke-width="0.35"/>
<line x1="361" y1="72.75" x2="363" y2="72.75" stroke="#3a1424" stroke-opacity="0.4" stroke-width="0.35"/>
<line x1="361" y1="81.45" x2="363" y2="81.45" stroke="#3a1424" stroke-opacity="0.4" stroke-width="0.35"/>
<line x1="363" y1="72.75" x2="365" y2="72.75" stroke="#3a1424" stroke-opacity="0.4" stroke-width="0.35"/>
<line x1="363" y1="81.45" x2="365" y2="81.45" stroke="#3a1424" stroke-opacity="0.4" stroke-width="0.35"/>
<line x1="365" y1="72.75" x2="367.5" y2="72.75" stroke="#3a1424" stroke-opacity="0.4" stroke-width="0.35"/>
<line x1="365" y1="81.45" x2="367.5" y2="81.45" stroke="#3a1424" stroke-opacity="0.4" stroke-width="0.35"/>
<line x1="367.5" y1="72.75" x2="369" y2="72.75" stroke="#3a1424" stroke-opacity="0.4" stroke-width="0.35"/>
<line x1="367.5" y1="81.45" x2="369" y2="81.45" stroke="#3a1424" stroke-opacity="0.4" stroke-width="0.35"/>
<line x1="369" y1="72.75" x2="371" y2="72.75" stroke="#3a1424" stroke-opacity="0.4" stroke-width="0.35"/>
<line x1="369" y1="81.45" x2="371" y2="81.45" stroke="#3a1424" stroke-opacity="0.4" stroke-width="0.35"/>
<line x1="371" y1="72.75" x2="373" y2="72.75" stroke="#3a1424" stroke-opacity="0.4" stroke-width="0.35"/>
<line x1="371" y1="81.45" x2="373" y2="81.45" stroke="#3a1424" stroke-opacity="0.4" stroke-width="0.35"/>
<line x1="373" y1="72.75" x2="381" y2="72.75" stroke="#3a1424" stroke-opacity="0.4" stroke-width="0.35"/>
<line x1="373" y1="81.45" x2="381" y2="81.45" stroke="#3a1424" stroke-opacity="0.4" stroke-width="0.35"/>
<line x1="383" y1="72.75" x2="385" y2="72.75" stroke="#3a1424" stroke-opacity="0.4" stroke-width="0.35"/>
<line x1="383" y1="81.45" x2="385" y2="81.45" stroke="#3a1424" stroke-opacity="0.4" stroke-width="0.35"/>
<line x1="385" y1="72.75" x2="387" y2="72.75" stroke="#3a1424" stroke-opacity="0.4" stroke-width="0.35"/>
<line x1="385" y1="81.45" x2="387" y2="81.45" stroke="#3a1424" stroke-opacity="0.4" stroke-width="0.35"/>
<line x1="387" y1="72.75" x2="389" y2="72.75" stroke="#3a1424" stroke-opacity="0.4" stroke-width="0.35"/>
<line x1="387" y1="81.45" x2="389" y2="81.45" stroke="#3a1424" stroke-opacity="0.4" stroke-width="0.35"/>
<line x1="389" y1="72.75" x2="391" y2="72.75" stroke="#3a1424" stroke-opacity="0.4" stroke-width="0.35"/>
<line x1="389" y1="81.45" x2="391" y2="81.45" stroke="#3a1424" stroke-opacity="0.4" stroke-width="0.35"/>
<line x1="391" y1="72.75" x2="393" y2="72.75" stroke="#3a1424" stroke-opacity="0.4" stroke-width="0.35"/>
<line x1="391" y1="81.45" x2="393" y2="81.45" stroke="#3a1424" stroke-opacity="0.4" stroke-width="0.35"/>
<line x1="393" y1="72.75" x2="395" y2="72.75" stroke="#3a1424" stroke-opacity="0.4" stroke-width="0.35"/>
<line x1="393" y1="81.45" x2="395" y2="81.45" stroke="#3a1424" stroke-opacity="0.4" stroke-width="0.35"/>
<line x1="395" y1="72.75" x2="399" y2="72.75" stroke="#3a1424" stroke-opacity="0.4" stroke-width="0.35"/>
<line x1="395" y1="81.45" x2="399" y2="81.45" stroke="#3a1424" stroke-opacity="0.4" stroke-width="0.35"/>
<line x1="399" y1="72.75" x2="401" y2="72.75" stroke="#3a1424" stroke-opacity="0.4" stroke-width="0.35"/>
<line x1="399" y1="81.45" x2="401" y2="81.45" stroke="#3a1424" stroke-opacity="0.4" stroke-width="0.35"/>
<line x1="401" y1="72.75" x2="403" y2="72.75" stroke="#3a1424" stroke-opacity="0.4" stroke-width="0.35"/>
<line x1="401" y1="81.45" x2="403" y2="81.45" stroke="#3a1424" stroke-opacity="0.4" stroke-width="0.35"/>
<line x1="403" y1="72.75" x2="405" y2="72.75" stroke="#3a1424" stroke-opacity="0.4" stroke-width="0.35"/>
<line x1="403" y1="81.45" x2="405" y2="81.45" stroke="#3a1424" stroke-opacity="0.4" stroke-width="0.35"/>
<line x1="405" y1="72.75" x2="407" y2="72.75" stroke="#3a1424" stroke-opacity="0.4" stroke-width="0.35"/>
<line x1="405" y1="81.45" x2="407" y2="81.45" stroke="#3a1424" stroke-opacity="0.4" stroke-width="0.35"/>
<line x1="407" y1="72.75" x2="409.5" y2="72.75" stroke="#3a1424" stroke-opacity="0.4" stroke-width="0.35"/>
<line x1="407" y1="81.45" x2="409.5" y2="81.45" stroke="#3a1424" stroke-opacity="0.4" stroke-width="0.35"/>
<line x1="409.5" y1="72.75" x2="411" y2="72.75" stroke="#3a1424" stroke-opacity="0.4" stroke-width="0.35"/>
<line x1="409.5" y1="81.45" x2="411" y2="81.45" stroke="#3a1424" stroke-opacity="0.4" stroke-width="0.35"/>
<line x1="411" y1="72.75" x2="413" y2="72.75" stroke="#3a1424" stroke-opacity="0.4" stroke-width="0.35"/>
<line x1="411" y1="81.45" x2="413" y2="81.45" stroke="#3a1424" stroke-opacity="0.4" stroke-width="0.35"/>
<line x1="413" y1="72.75" x2="414.5" y2="72.75" stroke="#3a1424" stroke-opacity="0.4" stroke-width="0.35"/>
<line x1="413" y1="81.45" x2="414.5" y2="81.45" stroke="#3a1424" stroke-opacity="0.4" stroke-width="0.35"/>
<line x1="414.5" y1="72.75" x2="420" y2="72.75" stroke="#3a1424" stroke-opacity="0.4" stroke-width="0.35"/>
<line x1="414.5" y1="81.45" x2="420" y2="81.45" stroke="#3a1424" stroke-opacity="0.4" stroke-width="0.35"/>
<line x1="420" y1="72.75" x2="422" y2="72.75" stroke="#3a1424" stroke-opacity="0.4" stroke-width="0.35"/>
<line x1="420" y1="81.45" x2="422" y2="81.45" stroke="#3a1424" stroke-opacity="0.4" stroke-width="0.35"/>
<line x1="422" y1="72.75" x2="426" y2="72.75" stroke="#3a1424" stroke-opacity="0.4" stroke-width="0.35"/>
<line x1="422" y1="81.45" x2="426" y2="81.45" stroke="#3a1424" stroke-opacity="0.4" stroke-width="0.35"/>
<line x1="426" y1="72.75" x2="427.6" y2="72.75" stroke="#3a1424" stroke-opacity="0.4" stroke-width="0.35"/>
<line x1="426" y1="81.45" x2="427.6" y2="81.45" stroke="#3a1424" stroke-opacity="0.4" stroke-width="0.35"/>
<line x1="427.6" y1="72.75" x2="432" y2="72.75" stroke="#3a1424" stroke-opacity="0.4" stroke-width="0.35"/>
<line x1="427.6" y1="81.45" x2="432" y2="81.45" stroke="#3a1424" stroke-opacity="0.4" stroke-width="0.35"/>
<line x1="432" y1="72.75" x2="440" y2="72.75" stroke="#3a1424" stroke-opacity="0.4" stroke-width="0.35"/>
<line x1="432" y1="81.45" x2="440" y2="81.45" stroke="#3a1424" stroke-opacity="0.4" stroke-width="0.35"/>
<line x1="440" y1="72.75" x2="442" y2="72.75" stroke="#3a1424" stroke-opacity="0.4" stroke-width="0.35"/>
<line x1="440" y1="81.45" x2="442" y2="81.45" stroke="#3a1424" stroke-opacity="0.4" stroke-width="0.35"/>
<line x1="448" y1="72.75" x2="450.2" y2="72.75" stroke="#3a1424" stroke-opacity="0.4" stroke-width="0.35"/>
<line x1="448" y1="81.45" x2="450.2" y2="81.45" stroke="#3a1424" stroke-opacity="0.4" stroke-width="0.35"/>
<line x1="453.5" y1="72.75" x2="455.2" y2="72.75" stroke="#3a1424" stroke-opacity="0.4" stroke-width="0.35"/>
<line x1="453.5" y1="81.45" x2="455.2" y2="81.45" stroke="#3a1424" stroke-opacity="0.4" stroke-width="0.35"/>
<line x1="456.5" y1="72.75" x2="458.5" y2="72.75" stroke="#3a1424" stroke-opacity="0.4" stroke-width="0.35"/>
<line x1="456.5" y1="81.45" x2="458.5" y2="81.45" stroke="#3a1424" stroke-opacity="0.4" stroke-width="0.35"/>
<line x1="458.5" y1="72.75" x2="461" y2="72.75" stroke="#3a1424" stroke-opacity="0.4" stroke-width="0.35"/>
<line x1="458.5" y1="81.45" x2="461" y2="81.45" stroke="#3a1424" stroke-opacity="0.4" stroke-width="0.35"/>
<line x1="464" y1="72.75" x2="466" y2="72.75" stroke="#3a1424" stroke-opacity="0.4" stroke-width="0.35"/>
<line x1="464" y1="81.45" x2="466" y2="81.45" stroke="#3a1424" stroke-opacity="0.4" stroke-width="0.35"/>
<line x1="466" y1="72.75" x2="470.2" y2="72.75" stroke="#3a1424" stroke-opacity="0.4" stroke-width="0.35"/>
<line x1="466" y1="81.45" x2="470.2" y2="81.45" stroke="#3a1424" stroke-opacity="0.4" stroke-width="0.35"/>
<line x1="471" y1="72.75" x2="472.5" y2="72.75" stroke="#3a1424" stroke-opacity="0.4" stroke-width="0.35"/>
<line x1="471" y1="81.45" x2="472.5" y2="81.45" stroke="#3a1424" stroke-opacity="0.4" stroke-width="0.35"/>
<line x1="472.5" y1="72.75" x2="473.5" y2="72.75" stroke="#3a1424" stroke-opacity="0.4" stroke-width="0.35"/>
<line x1="472.5" y1="81.45" x2="473.5" y2="81.45" stroke="#3a1424" stroke-opacity="0.4" stroke-width="0.35"/>
<line x1="473.5" y1="72.75" x2="475" y2="72.75" stroke="#3a1424" stroke-opacity="0.4" stroke-width="0.35"/>
<line x1="473.5" y1="81.45" x2="475" y2="81.45" stroke="#3a1424" stroke-opacity="0.4" stroke-width="0.35"/>
<line x1="475" y1="72.75" x2="477" y2="72.75" stroke="#3a1424" stroke-opacity="0.4" stroke-width="0.35"/>
<line x1="475" y1="81.45" x2="477" y2="81.45" stroke="#3a1424" stroke-opacity="0.4" stroke-width="0.35"/>
<line x1="480.5" y1="72.75" x2="483" y2="72.75" stroke="#3a1424" stroke-opacity="0.4" stroke-width="0.35"/>
<line x1="480.5" y1="81.45" x2="483" y2="81.45" stroke="#3a1424" stroke-opacity="0.4" stroke-width="0.35"/>
<line x1="483" y1="72.75" x2="487.5" y2="72.75" stroke="#3a1424" stroke-opacity="0.4" stroke-width="0.35"/>
<line x1="483" y1="81.45" x2="487.5" y2="81.45" stroke="#3a1424" stroke-opacity="0.4" stroke-width="0.35"/>
<line x1="487.5" y1="72.75" x2="489" y2="72.75" stroke="#3a1424" stroke-opacity="0.4" stroke-width="0.35"/>
<line x1="487.5" y1="81.45" x2="489" y2="81.45" stroke="#3a1424" stroke-opacity="0.4" stroke-width="0.35"/>
<line x1="505" y1="72.75" x2="507.5" y2="72.75" stroke="#3a1424" stroke-opacity="0.4" stroke-width="0.35"/>
<line x1="505" y1="81.45" x2="507.5" y2="81.45" stroke="#3a1424" stroke-opacity="0.4" stroke-width="0.35"/>
<line x1="507.5" y1="72.75" x2="509.5" y2="72.75" stroke="#3a1424" stroke-opacity="0.4" stroke-width="0.35"/>
<line x1="507.5" y1="81.45" x2="509.5" y2="81.45" stroke="#3a1424" stroke-opacity="0.4" stroke-width="0.35"/>
<line x1="509.5" y1="72.75" x2="514" y2="72.75" stroke="#3a1424" stroke-opacity="0.4" stroke-width="0.35"/>
<line x1="509.5" y1="81.45" x2="514" y2="81.45" stroke="#3a1424" stroke-opacity="0.4" stroke-width="0.35"/>
<line x1="514" y1="72.75" x2="515.5" y2="72.75" stroke="#3a1424" stroke-opacity="0.4" stroke-width="0.35"/>
<line x1="514" y1="81.45" x2="515.5" y2="81.45" stroke="#3a1424" stroke-opacity="0.4" stroke-width="0.35"/>
<line x1="319" y1="85" x2="319" y2="85.9" stroke="#777" stroke-width="0.4"/>
<text x="319" y="90.6" font-size="3.93" text-anchor="middle" fill="#151515" transform="rotate(0.03 319 90.6)">0</text>
<line x1="363.04" y1="85" x2="363.04" y2="85.9" stroke="#777" stroke-width="0.4"/>
<text x="363.04" y="90.6" font-size="3.93" text-anchor="middle" fill="#151515" transform="rotate(0.03 363.04 90.6)">2000</text>
<line x1="407.09" y1="85" x2="407.09" y2="85.9" stroke="#777" stroke-width="0.4"/>
<text x="407.09" y="90.6" font-size="3.93" text-anchor="middle" fill="#151515" transform="rotate(0.03 407.09 90.6)">4000</text>
<line x1="451.13" y1="85" x2="451.13" y2="85.9" stroke="#777" stroke-width="0.4"/>
<text x="451.13" y="90.6" font-size="3.93" text-anchor="middle" fill="#151515" transform="rotate(0.03 451.13 90.6)">6000</text>
<line x1="495.17" y1="85" x2="495.17" y2="85.9" stroke="#777" stroke-width="0.4"/>
<text x="495.17" y="90.6" font-size="3.93" text-anchor="middle" fill="#151515" transform="rotate(0.03 495.17 90.6)">8000</text>
<line x1="515.8" y1="85" x2="515.8" y2="85.9" stroke="#777" stroke-width="0.4"/>
<text x="515.8" y="90.6" font-size="3.93" text-anchor="middle" fill="#151515" transform="rotate(0.03 515.8 90.6)">8923</text>
<circle cx="306.9" cy="98.3" r="1.7" fill="#0a2a9a"/>
<text x="311" y="99.75" font-size="3.93" fill="#151515" transform="rotate(0.03 311 99.75)">Missense_Mutation</text>
<text x="311" y="106.6" font-size="3.93" fill="#151515" transform="rotate(0.03 311 106.6)">Nonsense_Mutation</text>
<text x="349.4" y="96.2" font-size="3.93" fill="#151515" transform="rotate(0.03 349.4 96.2)">Domains</text>
<rect x="366" y="93.5" width="3" height="3" fill="#f4a27c"/>
<text x="373.4" y="96.45" font-size="3.93" fill="#151515" transform="rotate(0.03 373.4 96.45)">S_Tkc</text>
<rect x="366" y="100.5" width="3" height="3" fill="#fff3df"/>
<text x="373.4" y="103.45" font-size="3.93" fill="#151515" transform="rotate(0.03 373.4 103.45)">PKc</text>
<rect x="366" y="107.5" width="3" height="3" fill="#4466e8"/>
<text x="373.4" y="110.45" font-size="3.93" fill="#151515" transform="rotate(0.03 373.4 110.45)">RhoGEF</text>
<rect x="366" y="114.5" width="3" height="3" fill="#ea5a35"/>
<text x="373.4" y="117.45" font-size="3.93" fill="#151515" transform="rotate(0.03 373.4 117.45)">PH-like</text>
<rect x="417.4" y="93.5" width="3" height="3" fill="#d2457a"/>
<text x="424.4" y="96.45" font-size="3.93" fill="#151515" transform="rotate(0.03 424.4 96.45)">I-set</text>
<rect x="417.4" y="100.5" width="3" height="3" fill="#f07328"/>
<text x="424.4" y="103.45" font-size="3.93" fill="#151515" transform="rotate(0.03 424.4 103.45)">FN3</text>
<rect x="417.4" y="107.5" width="3" height="3" fill="#fbb850"/>
<text x="424.4" y="110.45" font-size="3.93" fill="#151515" transform="rotate(0.03 424.4 110.45)">Ig_Semaphorin_C</text>
<rect x="417.4" y="114.5" width="3" height="3" fill="#3355f0"/>
<text x="424.4" y="117.45" font-size="3.93" fill="#151515" transform="rotate(0.03 424.4 117.45)">IG</text>
<rect x="464.9" y="93.5" width="3" height="3" fill="#ea6034"/>
<text x="473.3" y="96.45" font-size="3.93" fill="#151515" transform="rotate(0.03 473.3 96.45)">IG_like</text>
<rect x="464.9" y="100.5" width="3" height="3" fill="#c23564"/>
<text x="473.3" y="103.45" font-size="3.93" fill="#151515" transform="rotate(0.03 473.3 103.45)">Ig</text>
<rect x="464.9" y="107.5" width="3" height="3" fill="#3a2f8a"/>
<text x="473.3" y="110.45" font-size="3.93" fill="#151515" transform="rotate(0.03 473.3 110.45)">SH3_Obscurin_like</text>
<text x="287.2" y="128.5" font-size="7.6" font-weight="bold" fill="#000" transform="rotate(0.03 287.2 128.5)">E</text>
<text x="309.4" y="124.7" font-size="3.93" fill="#151515" transform="rotate(0.03 309.4 124.7)">RNF213 : [Somatic Mutation Rate: 16.67%]</text>
<text x="309.4" y="128.6" font-size="3.93" fill="#151515" transform="rotate(0.03 309.4 128.6)">NM_001256071</text>
<line x1="311.3" y1="134.6" x2="311.3" y2="178" stroke="#7a7a7a" stroke-width="0.5"/>
<line x1="310.1" y1="134.6" x2="311.3" y2="134.6" stroke="#7a7a7a" stroke-width="0.4"/>
<line x1="310.1" y1="178" x2="311.3" y2="178" stroke="#7a7a7a" stroke-width="0.4"/>
<text x="306.7" y="137.35" font-size="3.93" text-anchor="end" fill="#151515" transform="rotate(0.03 306.7 137.35)">5</text>
<text x="306.7" y="179.9" font-size="3.93" text-anchor="end" fill="#151515" transform="rotate(0.03 306.7 179.9)">1</text>
<rect x="319.3" y="190.85" width="197.3" height="6.4" fill="#98a9aa" stroke="#44585a" stroke-width="0.55"/>
<line x1="344.4" y1="177.6" x2="344.4" y2="197.35" stroke="#c4c4c4" stroke-opacity="0.5" stroke-width="0.28"/>
<line x1="346" y1="177.6" x2="346" y2="197.35" stroke="#c4c4c4" stroke-opacity="0.5" stroke-width="0.28"/>
<line x1="350.6" y1="177.6" x2="350.6" y2="197.35" stroke="#c4c4c4" stroke-opacity="0.5" stroke-width="0.28"/>
<line x1="394" y1="177.6" x2="394" y2="197.35" stroke="#c4c4c4" stroke-opacity="0.5" stroke-width="0.28"/>
<line x1="431.6" y1="177.6" x2="431.6" y2="197.35" stroke="#c4c4c4" stroke-opacity="0.5" stroke-width="0.28"/>
<line x1="438.4" y1="177.6" x2="438.4" y2="197.35" stroke="#c4c4c4" stroke-opacity="0.5" stroke-width="0.28"/>
<line x1="470" y1="177.6" x2="470" y2="197.35" stroke="#c4c4c4" stroke-opacity="0.5" stroke-width="0.28"/>
<line x1="471.4" y1="177.6" x2="471.4" y2="197.35" stroke="#c4c4c4" stroke-opacity="0.5" stroke-width="0.28"/>
<line x1="481.6" y1="177.6" x2="481.6" y2="197.35" stroke="#c4c4c4" stroke-opacity="0.5" stroke-width="0.28"/>
<rect x="410" y="189.65" width="5" height="8.8" fill="#f6a27e" stroke="#2a2a2a" stroke-width="0.45" rx="0.5"/>
<rect x="470" y="189.65" width="2" height="8.8" fill="#6a7be6" stroke="#4a5ac0" stroke-width="0.45" rx="0.5"/>
<line x1="319" y1="201.2" x2="516.6" y2="201.2" stroke="#b5b5b5" stroke-width="0.4"/>
<line x1="319" y1="201.2" x2="319" y2="202.1" stroke="#777" stroke-width="0.4"/>
<text x="319" y="208.15" font-size="3.93" text-anchor="middle" fill="#151515" transform="rotate(0.03 319 208.15)">0</text>
<line x1="356.95" y1="201.2" x2="356.95" y2="202.1" stroke="#777" stroke-width="0.4"/>
<text x="356.95" y="208.15" font-size="3.93" text-anchor="middle" fill="#151515" transform="rotate(0.03 356.95 208.15)">1000</text>
<line x1="394.9" y1="201.2" x2="394.9" y2="202.1" stroke="#777" stroke-width="0.4"/>
<text x="394.9" y="208.15" font-size="3.93" text-anchor="middle" fill="#151515" transform="rotate(0.03 394.9 208.15)">2000</text>
<line x1="432.85" y1="201.2" x2="432.85" y2="202.1" stroke="#777" stroke-width="0.4"/>
<text x="432.85" y="208.15" font-size="3.93" text-anchor="middle" fill="#151515" transform="rotate(0.03 432.85 208.15)">3000</text>
<line x1="470.8" y1="201.2" x2="470.8" y2="202.1" stroke="#777" stroke-width="0.4"/>
<text x="470.8" y="208.15" font-size="3.93" text-anchor="middle" fill="#151515" transform="rotate(0.03 470.8 208.15)">4000</text>
<line x1="508.74" y1="201.2" x2="508.74" y2="202.1" stroke="#777" stroke-width="0.4"/>
<text x="508.74" y="208.15" font-size="3.93" text-anchor="middle" fill="#151515" transform="rotate(0.03 508.74 208.15)">5000</text>
<line x1="516.6" y1="201.2" x2="516.6" y2="202.1" stroke="#777" stroke-width="0.4"/>
<circle cx="344.4" cy="177.6" r="1.38" fill="#0c46b6"/>
<circle cx="346" cy="177.6" r="1.38" fill="#0c46b6"/>
<circle cx="350.6" cy="177.6" r="1.38" fill="#0c46b6"/>
<circle cx="394" cy="177.6" r="1.38" fill="#0c46b6"/>
<circle cx="431.6" cy="177.6" r="1.38" fill="#0c46b6"/>
<circle cx="438.4" cy="177.6" r="1.38" fill="#0c46b6"/>
<circle cx="470" cy="177.6" r="1.38" fill="#0c46b6"/>
<circle cx="471.4" cy="177.6" r="1.38" fill="#0c46b6"/>
<circle cx="481.6" cy="177.6" r="1.38" fill="#0c46b6"/>
<circle cx="310" cy="216.6" r="1.7" fill="#0a2a9a"/>
<text x="314" y="218" font-size="3.93" fill="#151515" transform="rotate(0.03 314 218)">Missense_Mutation</text>
<text x="362.4" y="215" font-size="3.93" fill="#151515" transform="rotate(0.03 362.4 215)">Domains</text>
<rect x="383.6" y="212.4" width="3" height="3" fill="#f6a27e"/>
<text x="392" y="215.35" font-size="3.93" fill="#151515" transform="rotate(0.03 392 215.35)">AAA</text>
<rect x="383.6" y="219.4" width="3" height="3" fill="#fbd48b"/>
<text x="392" y="222.35" font-size="3.93" fill="#151515" transform="rotate(0.03 392 222.35)">RING</text>
<rect x="383.6" y="226.4" width="3" height="3" fill="#5a6fe8"/>
<text x="392" y="229.35" font-size="3.93" fill="#151515" transform="rotate(0.03 392 229.35)">Zf-C3HC4_2</text>
<text x="287.6" y="244.2" font-size="7.6" font-weight="bold" fill="#000" transform="rotate(0.03 287.6 244.2)">F</text>
<text x="310.7" y="236.95" font-size="3.93" fill="#151515" transform="rotate(0.03 310.7 236.95)">DMD : [Somatic Mutation Rate: 14.58%]</text>
<text x="310.7" y="240.85" font-size="3.93" fill="#151515" transform="rotate(0.03 310.7 240.85)">NM_004006</text>
<line x1="311.3" y1="244.6" x2="311.3" y2="288.4" stroke="#7a7a7a" stroke-width="0.5"/>
<line x1="310.1" y1="244.6" x2="311.3" y2="244.6" stroke="#7a7a7a" stroke-width="0.4"/>
<line x1="310.1" y1="288.4" x2="311.3" y2="288.4" stroke="#7a7a7a" stroke-width="0.4"/>
<text x="306.7" y="247.35" font-size="3.93" text-anchor="end" fill="#151515" transform="rotate(0.03 306.7 247.35)">5</text>
<text x="306.7" y="290.3" font-size="3.93" text-anchor="end" fill="#151515" transform="rotate(0.03 306.7 290.3)">1</text>
<rect x="319.3" y="300.9" width="197.2" height="6.6" fill="#98a9aa" stroke="#44585a" stroke-width="0.55"/>
<line x1="330" y1="288" x2="330" y2="307.6" stroke="#c4c4c4" stroke-opacity="0.5" stroke-width="0.28"/>
<line x1="340" y1="288" x2="340" y2="307.6" stroke="#c4c4c4" stroke-opacity="0.5" stroke-width="0.28"/>
<line x1="343.6" y1="288" x2="343.6" y2="307.6" stroke="#c4c4c4" stroke-opacity="0.5" stroke-width="0.28"/>
<line x1="345.4" y1="288" x2="345.4" y2="307.6" stroke="#c4c4c4" stroke-opacity="0.5" stroke-width="0.28"/>
<line x1="347.2" y1="288" x2="347.2" y2="307.6" stroke="#c4c4c4" stroke-opacity="0.5" stroke-width="0.28"/>
<line x1="349" y1="288" x2="349" y2="307.6" stroke="#c4c4c4" stroke-opacity="0.5" stroke-width="0.28"/>
<line x1="376.4" y1="288" x2="376.4" y2="307.6" stroke="#c4c4c4" stroke-opacity="0.5" stroke-width="0.28"/>
<rect x="319" y="299.7" width="0.9" height="9" fill="#111111"/>
<rect x="319.9" y="299.7" width="5.1" height="9" fill="#ffffff"/>
<rect x="325" y="299.7" width="1.2" height="9" fill="#4dbb85"/>
<rect x="326.2" y="299.7" width="5.8" height="9" fill="#ffffff"/>
<rect x="332" y="299.7" width="5" height="9" fill="#8a8a8a"/>
<rect x="337" y="299.7" width="6" height="9" fill="#585858"/>
<rect x="343" y="299.7" width="5.8" height="9" fill="#ffffff"/>
<rect x="348.8" y="299.7" width="6" height="9" fill="#0505c8"/>
<rect x="354.8" y="299.7" width="2.7" height="9" fill="#7cf000"/>
<rect x="357.5" y="299.7" width="5.5" height="9" fill="#d2d2d2"/>
<rect x="363" y="299.7" width="6" height="9" fill="#9a4a12"/>
<rect x="369" y="299.7" width="6" height="9" fill="#808080"/>
<rect x="375" y="299.7" width="5.8" height="9" fill="#4f9a55"/>
<rect x="380.8" y="299.7" width="5.7" height="9" fill="#0b7aa8"/>
<rect x="386.5" y="299.7" width="5.5" height="9" fill="#222222"/>
<rect x="392" y="299.7" width="5.5" height="9" fill="#e59ab0"/>
<rect x="397.5" y="299.7" width="5.5" height="9" fill="#b8e0de"/>
<rect x="403" y="299.7" width="6" height="9" fill="#333333"/>
<rect x="409" y="299.7" width="5" height="9" fill="#e59aa8"/>
<rect x="414" y="299.7" width="5.5" height="9" fill="#555555"/>
<rect x="419.5" y="299.7" width="5.5" height="9" fill="#da70d6"/>
<rect x="425" y="299.7" width="6.5" height="9" fill="#1874cd"/>
<rect x="431.5" y="299.7" width="5.5" height="9" fill="#f0e68c"/>
<rect x="437" y="299.7" width="6" height="9" fill="#555555"/>
<rect x="443" y="299.7" width="5.5" height="9" fill="#8a8a8a"/>
<rect x="448.5" y="299.7" width="3" height="9" fill="#8b2a8b"/>
<rect x="451.5" y="299.7" width="5.5" height="9" fill="#ff5fbf"/>
<rect x="457" y="299.7" width="5.8" height="9" fill="#808080"/>
<rect x="462.8" y="299.7" width="6.2" height="9" fill="#ffa0b0"/>
<rect x="469" y="299.7" width="6.5" height="9" fill="#808080"/>
<rect x="475.5" y="299.7" width="5" height="9" fill="#444444"/>
<rect x="480.5" y="299.7" width="2" height="9" fill="#8b6b3a"/>
<rect x="482.5" y="299.7" width="1.5" height="9" fill="#ffdead"/>
<rect x="484" y="299.7" width="2" height="9" fill="#808020"/>
<rect x="486" y="299.7" width="3" height="9" fill="#8b0010"/>
<rect x="489" y="299.7" width="1.8" height="9" fill="#b03030"/>
<rect x="490.8" y="299.7" width="4.7" height="9" fill="#808888"/>
<rect x="495.5" y="299.7" width="3.5" height="9" fill="#c8b400"/>
<rect x="499" y="299.7" width="10" height="9" fill="#ffdab9"/>
<rect x="509" y="299.7" width="2.5" height="9" fill="#858585"/>
<rect x="511.5" y="299.7" width="5" height="9" fill="#ffdab9"/>
<line x1="319" y1="311.35" x2="516.5" y2="311.35" stroke="#b5b5b5" stroke-width="0.4"/>
<circle cx="330" cy="288" r="1.38" fill="#0c46b6"/>
<circle cx="340" cy="288" r="1.38" fill="#0c46b6"/>
<circle cx="343.6" cy="288" r="1.38" fill="#0c46b6"/>
<circle cx="345.4" cy="288" r="1.38" fill="#0c46b6"/>
<circle cx="347.2" cy="288" r="1.38" fill="#0c46b6"/>
<circle cx="349" cy="288" r="1.38" fill="#0c46b6"/>
<circle cx="376.4" cy="288" r="1.38" fill="#0c46b6"/>
<rect x="319" y="299.7" width="197.5" height="9" fill="none" stroke="#8a8a8a" stroke-width="0.25"/>
<line x1="319" y1="311.35" x2="319" y2="312.3" stroke="#777" stroke-width="0.4"/>
<text x="319" y="318.6" font-size="3.93" text-anchor="middle" fill="#151515" transform="rotate(0.03 319 318.6)">0</text>
<line x1="372.57" y1="311.35" x2="372.57" y2="312.3" stroke="#777" stroke-width="0.4"/>
<text x="372.57" y="318.6" font-size="3.93" text-anchor="middle" fill="#151515" transform="rotate(0.03 372.57 318.6)">1000</text>
<line x1="426.14" y1="311.35" x2="426.14" y2="312.3" stroke="#777" stroke-width="0.4"/>
<text x="426.14" y="318.6" font-size="3.93" text-anchor="middle" fill="#151515" transform="rotate(0.03 426.14 318.6)">2000</text>
<line x1="479.71" y1="311.35" x2="479.71" y2="312.3" stroke="#777" stroke-width="0.4"/>
<text x="479.71" y="318.6" font-size="3.93" text-anchor="middle" fill="#151515" transform="rotate(0.03 479.71 318.6)">3000</text>
<line x1="516.4" y1="311.35" x2="516.4" y2="312.3" stroke="#777" stroke-width="0.4"/>
<text x="516.4" y="318.6" font-size="3.93" text-anchor="middle" fill="#151515" transform="rotate(0.03 516.4 318.6)">3685</text>
<circle cx="306.8" cy="325.5" r="1.7" fill="#0a2a9a"/>
<text x="311" y="326.6" font-size="3.93" fill="#151515" transform="rotate(0.03 311 326.6)">Missense_Mutation</text>
<text x="349.4" y="323.6" font-size="3.82" fill="#151515" transform="rotate(0.03 349.4 323.6)">Domains</text>
<rect x="366" y="320.9" width="3" height="3" fill="#ffefd5"/>
<text x="374.4" y="323.85" font-size="3.82" fill="#151515" transform="rotate(0.03 374.4 323.85)">Central rod domain</text>
<rect x="366" y="327.75" width="3" height="3" fill="#ffdab9"/>
<text x="374.4" y="330.7" font-size="3.82" fill="#151515" transform="rotate(0.03 374.4 330.7)">Carboxy-terminal region</text>
<rect x="366" y="334.6" width="3" height="3" fill="#a9a9a9"/>
<text x="374.4" y="337.55" font-size="3.82" fill="#151515" transform="rotate(0.03 374.4 337.55)">COG1340</text>
<rect x="366" y="341.45" width="3" height="3" fill="#808000"/>
<text x="374.4" y="344.4" font-size="3.82" fill="#151515" transform="rotate(0.03 374.4 344.4)">SPEC</text>
<rect x="417.4" y="320.9" width="3" height="3" fill="#33ee77"/>
<text x="424.4" y="323.85" font-size="3.82" fill="#151515" transform="rotate(0.03 424.4 323.85)">Actin binding domain</text>
<rect x="417.4" y="327.75" width="3" height="3" fill="#ececec"/>
<text x="424.4" y="330.7" font-size="3.82" fill="#151515" transform="rotate(0.03 424.4 330.7)">Cysteine-rich domain</text>
<rect x="417.4" y="334.6" width="3" height="3" fill="#444444"/>
<text x="424.4" y="337.55" font-size="3.82" fill="#151515" transform="rotate(0.03 424.4 337.55)">Repeat region 23</text>
<rect x="417.4" y="341.45" width="3" height="3" fill="#8b0000"/>
<text x="424.4" y="344.4" font-size="3.82" fill="#151515" transform="rotate(0.03 424.4 344.4)">Efhand_1</text>
<rect x="464.6" y="321.1" width="3" height="3" fill="#ffa6b4"/>
<text x="471.4" y="324.05" font-size="3.82" fill="#151515" transform="rotate(0.03 471.4 324.05)">Repeat region 22</text>
<rect x="464.6" y="327.95" width="3" height="3" fill="#444444"/>
<text x="471.4" y="330.9" font-size="3.82" fill="#151515" transform="rotate(0.03 471.4 330.9)">Repeat region 1</text>
<rect x="464.6" y="334.8" width="3" height="3" fill="#0505c8"/>
<text x="471.4" y="337.75" font-size="3.82" fill="#151515" transform="rotate(0.03 471.4 337.75)">Repeat region 3</text>
<rect x="464.6" y="341.65" width="3" height="3" fill="#d2d2d2"/>
<text x="471.4" y="344.6" font-size="3.82" fill="#151515" transform="rotate(0.03 471.4 344.6)">Repeat region 4</text>
<rect x="507.6" y="321.1" width="3" height="3" fill="#6a6a6a"/>
<text x="514" y="324.05" font-size="3.82" fill="#151515" transform="rotate(0.03 514 324.05)">Repeat region 6</text>
<rect x="507.6" y="327.95" width="3" height="3" fill="#1874cd"/>
<text x="514" y="330.9" font-size="3.82" fill="#151515" transform="rotate(0.03 514 330.9)">Repeat region 16</text>
<rect x="507.6" y="334.8" width="3" height="3" fill="#444444"/>
<text x="514" y="337.75" font-size="3.82" fill="#151515" transform="rotate(0.03 514 337.75)">Repeat region 18</text>
<rect x="507.6" y="341.65" width="3" height="3" fill="#f4f4f4"/>
<text x="514" y="344.6" font-size="3.82" fill="#151515" transform="rotate(0.03 514 344.6)">Repeat region 2</text>
</svg>
</body>
</html>
